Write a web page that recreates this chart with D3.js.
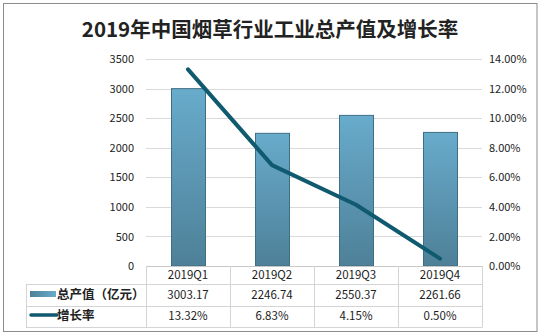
<!DOCTYPE html>
<html><head><meta charset="utf-8">
<script src="https://cdn.jsdelivr.net/npm/d3@7"></script>
<style>
html,body{margin:0;padding:0;background:#fff;}
svg text{font-family:"Noto Sans CJK SC","Noto Sans",sans-serif;}
</style></head>
<body><svg id="c" width="540" height="336"></svg>
<script>
const title = "2019年中国烟草行业工业总产值及增长率";
const categories = ["2019Q1","2019Q2","2019Q3","2019Q4"];
const outputValues = [3003.17, 2246.74, 2550.37, 2261.66];
const outputLabels = ["3003.17","2246.74","2550.37","2261.66"];
const growthRates = [13.32, 6.83, 4.15, 0.50];
const growthLabels = ["13.32%","6.83%","4.15%","0.50%"];
const leftTicks = [0,500,1000,1500,2000,2500,3000,3500];
const rightTicks = [0,2,4,6,8,10,12,14];
const seriesNames = ["总产值（亿元）","增长率"];

(function(){
const svg = d3.select("#c");
const defs = svg.append("defs");
const g1 = defs.append("linearGradient").attr("id","barGrad").attr("x1",0).attr("y1",0).attr("x2",0).attr("y2",1);
g1.append("stop").attr("offset","0%").attr("stop-color","#68abcb");
g1.append("stop").attr("offset","100%").attr("stop-color","#4e8098");
const g2 = defs.append("linearGradient").attr("id","legGrad").attr("x1",0).attr("y1",0).attr("x2",1).attr("y2",0);
g2.append("stop").attr("offset","0%").attr("stop-color","#4e8098");
g2.append("stop").attr("offset","100%").attr("stop-color","#68abcb");

// outer border
svg.append("rect").attr("x",3.5).attr("y",3.5).attr("width",533.5).attr("height",328)
  .attr("fill","#fff").attr("stroke","#8c8c8c").attr("stroke-width",1);

svg.append("text").attr("x",270).attr("y",36.5).attr("text-anchor","middle")
  .attr("font-size",20.5).attr("font-weight","bold").attr("fill","#222").text(title);

const pL = 146, pR = 482, pT = 59.3, pB = 266;
const x = d3.scaleBand().domain(categories).range([pL,pR]).paddingInner(0).paddingOuter(0);
const yL = d3.scaleLinear().domain([0,3500]).range([pB,pT]);
const yR = d3.scaleLinear().domain([0,14]).range([pB,pT]);

// gridlines
svg.append("g").selectAll("line").data(leftTicks.slice(1)).join("line")
  .attr("x1",pL).attr("x2",pR)
  .attr("y1",d=>Math.round(yL(d))+0.5).attr("y2",d=>Math.round(yL(d))+0.5)
  .attr("stroke","#d9d9d9").attr("stroke-width",1);

// left axis
const axL = d3.axisLeft(yL).tickValues(leftTicks).tickSize(0).tickPadding(0).tickFormat(d3.format("d"));
const gL = svg.append("g").attr("transform",`translate(134,0)`).call(axL);
gL.select(".domain").remove();
gL.selectAll("text").attr("font-size",11).attr("fill","#222").attr("font-family","'Noto Sans CJK SC',sans-serif");

// right axis
const axR = d3.axisRight(yR).tickValues(rightTicks).tickSize(0).tickPadding(0).tickFormat(d=>d.toFixed(2)+"%");
const gR = svg.append("g").attr("transform",`translate(489,0)`).call(axR);
gR.select(".domain").remove();
gR.selectAll("text").attr("font-size",11).attr("fill","#222").attr("font-family","'Noto Sans CJK SC',sans-serif");

// bars
const bw = 34;
svg.append("g").selectAll("rect").data(outputValues).join("rect")
  .attr("x",(d,i)=>x(categories[i])+x.bandwidth()/2-bw/2+0.5)
  .attr("y",d=>yL(d))
  .attr("width",bw).attr("height",d=>pB-yL(d))
  .attr("fill","url(#barGrad)").attr("stroke","#3f6f85").attr("stroke-width",1);

// line
const line = d3.line().x((d,i)=>x(categories[i])+x.bandwidth()/2).y(d=>yR(d));
svg.append("path").datum(growthRates).attr("d",line)
  .attr("fill","none").attr("stroke","#105a70").attr("stroke-width",4).attr("stroke-linejoin","round").attr("stroke-linecap","round");

// data table
const rowY = [266, 283.5, 305.5, 326.5];
const tLeft = 26;
const tbl = svg.append("g").attr("stroke","#d4d4d4").attr("stroke-width",1);
tbl.append("line").attr("x1",pL).attr("x2",pR).attr("y1",rowY[0]+0.5).attr("y2",rowY[0]+0.5).attr("stroke","#c8c8c8");
[1,2,3].forEach(r=>{
  tbl.append("line").attr("x1",tLeft).attr("x2",pR).attr("y1",Math.round(rowY[r])+0.5).attr("y2",Math.round(rowY[r])+0.5);
});
tbl.append("line").attr("x1",tLeft+0.5).attr("x2",tLeft+0.5).attr("y1",Math.round(rowY[1])+0.5).attr("y2",Math.round(rowY[3])+0.5);
const colEdges = categories.map(c=>x(c)).concat([pR]);
colEdges.forEach(v=>{
  tbl.append("line").attr("x1",Math.round(v)+0.5).attr("x2",Math.round(v)+0.5).attr("y1",rowY[0]).attr("y2",Math.round(rowY[3])+0.5);
});

const txt = svg.append("g").attr("font-size",11.5).attr("fill","#222").attr("text-anchor","middle");
categories.forEach((c,i)=>{
  const cx = x(c)+x.bandwidth()/2;
  txt.append("text").attr("x",cx).attr("y",279).text(c);
  txt.append("text").attr("x",cx).attr("y",299).text(outputLabels[i]);
  txt.append("text").attr("x",cx).attr("y",320).text(growthLabels[i]);
});

// legend keys in table
svg.append("rect").attr("x",30).attr("y",291).attr("width",26).attr("height",6).attr("fill","url(#legGrad)");
svg.append("line").attr("x1",31).attr("x2",57).attr("y1",315).attr("y2",315).attr("stroke","#105a70").attr("stroke-width",3.5).attr("stroke-linecap","round");
svg.append("text").attr("x",57).attr("y",299).attr("font-size",12.5).attr("font-weight","bold").attr("fill","#222").text(seriesNames[0]);
svg.append("text").attr("x",57).attr("y",320).attr("font-size",12.5).attr("font-weight","bold").attr("fill","#222").text(seriesNames[1]);
})();
</script></body></html>
